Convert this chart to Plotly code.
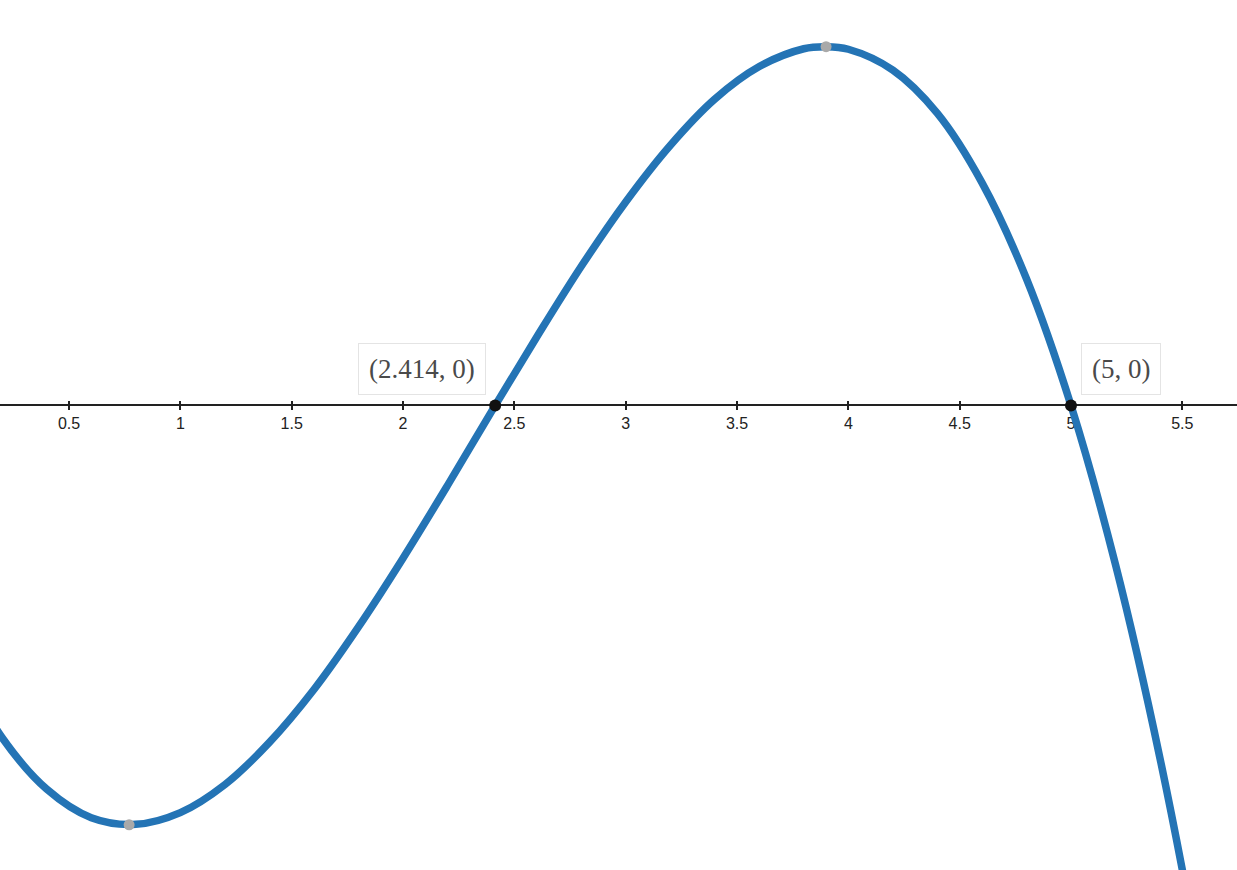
#
# Cubic curve crossing the x axis, with the two visible roots labelled
# and the turning points marked in gray.
#

import plotly.graph_objects as go

# Points
curve_x = [0.0, 0.2, 0.4, 0.6, 0.8, 1.0, 1.2, 1.4, 1.6, 1.8, 2.0, 2.2, 2.4,
           2.6, 2.8, 3.0, 3.2, 3.4, 3.6, 3.8, 3.9, 4.0, 4.2, 4.4, 4.6, 4.8,
           5.0, 5.2, 5.4, 5.6, 5.8]
curve_y = [-5.0, -6.53, -7.54, -8.10, -8.23, -8.0, -7.45, -6.62, -5.58, -4.35,
           -3.0, -1.57, -0.10, 1.34, 2.73, 4.0, 5.11, 6.02, 6.66, 7.01, 7.05,
           7.0, 6.59, 5.74, 4.38, 2.49, 0.0, -3.13, -6.94, -11.50, -16.83]

# Roots (labelled) and turning points
root_x = [2.414, 5.0]
root_y = [0, 0]
root_labels = ["(2.414, 0)", "(5, 0)"]
turn_x = [0.77, 3.9]
turn_y = [-8.24, 7.05]

x_range = [0.1901, 5.7455]
y_range = [-9.128, 7.968]
axis_pos = -y_range[0] / (y_range[1] - y_range[0])

blue = "#2474b5"
ink = "#222222"

fig = go.Figure()

fig.add_trace(go.Scatter(
    x=curve_x, y=curve_y,
    mode="lines",
    line=dict(color=blue, width=7.5, shape="spline"),
    hoverinfo="skip",
))

fig.add_trace(go.Scatter(
    x=turn_x, y=turn_y,
    mode="markers",
    marker=dict(size=11, color="#a9a9a9"),
))

fig.add_trace(go.Scatter(
    x=root_x, y=root_y,
    mode="markers",
    marker=dict(size=12, color="#111111"),
))

# Labels for the roots, left one sits to the left of its point
for i, (x, lbl) in enumerate(zip(root_x, root_labels)):
    left = (i == 0)
    fig.add_annotation(
        x=x, y=0, xref="x", yref="y",
        text=lbl, showarrow=False,
        xanchor="right" if left else "left",
        yanchor="bottom",
        xshift=-9 if left else 10,
        yshift=10,
        font=dict(family="Liberation Serif", size=27, color="#4a4a4a"),
        bgcolor="white",
        bordercolor="#e4e4e4",
        borderwidth=1,
        borderpad=10,
    )

axis_common = dict(
    range=x_range,
    tick0=0, dtick=0.5,
    ticklen=4, tickwidth=1.5, tickcolor=ink,
    showgrid=False, zeroline=False,
    showline=True, linecolor=ink, linewidth=1.5,
    anchor="free", position=axis_pos,
    layer="below traces",
)

fig.update_layout(
    width=1237, height=870,
    margin=dict(l=0, r=0, t=0, b=0),
    paper_bgcolor="white", plot_bgcolor="white",
    showlegend=False,
    xaxis=dict(
        **axis_common,
        ticks="outside",
        tickfont=dict(family="Arial, Liberation Sans", size=16, color=ink),
    ),
    xaxis2=dict(
        **axis_common,
        overlaying="x",
        ticks="inside",
        showticklabels=False,
    ),
    yaxis=dict(range=y_range, visible=False),
)

# dummy trace so the second x axis gets drawn
fig.add_trace(go.Scatter(x=[], y=[], xaxis="x2", yaxis="y"))

# no page margin, so the figure sits flush in the window
fig.write_html("out.html", config={"displayModeBar": False},
               post_script="document.body.style.margin='0px';")
